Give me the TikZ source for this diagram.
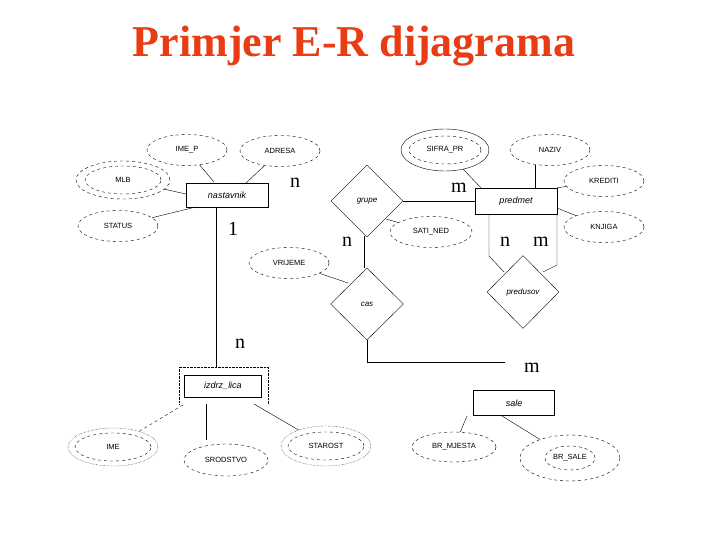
\documentclass[tikz,border=0pt]{standalone}
\usepackage{fontspec}
\setmainfont{Liberation Serif}
\newfontfamily\mysans{Liberation Sans}
\usetikzlibrary{shapes.geometric}
\definecolor{titlered}{RGB}{232,60,20}
\begin{document}
\begin{tikzpicture}[x=1pt,y=-1pt,
 att/.style={draw,dashed,ellipse,minimum width=80pt,minimum height=31pt,inner sep=0pt,font=\mysans\fontsize{7.5}{8}\selectfont},
 inner/.style={draw,dashed,ellipse,inner sep=0pt},
 outer/.style={draw,ellipse,inner sep=0pt},
 ent/.style={draw,rectangle,inner sep=0pt,font=\mysans\itshape\fontsize{9}{10}\selectfont},
 rel/.style={draw,diamond,aspect=1,inner sep=0pt,font=\mysans\itshape\fontsize{8}{9}\selectfont},
 card/.style={font=\fontsize{20}{20}\selectfont},
 lbl/.style={font=\mysans\fontsize{7.5}{8}\selectfont}]
\useasboundingbox (0,0) rectangle (720,540);
\node[text=titlered,font=\bfseries\fontsize{44}{46}\selectfont] (title) at (354,46) {Primjer E-R dijagrama};
% nastavnik
\node[ent,minimum width=82pt,minimum height=24pt] (nast) at (227,195) {nastavnik};
\node[att] (imep) at (187,150) {IME\_P};
\node[att] (adr) at (280,151) {ADRESA};
\node[outer,dashed,minimum width=94pt,minimum height=38pt] (mlbo) at (123,180) {};
\node[inner,minimum width=76pt,minimum height=28pt,lbl] (mlb) at (123,180) {MLB};
\node[att] (stat) at (118,226) {STATUS};
\draw (imep) -- (214,182);
\draw (adr) -- (246,183);
\draw (mlbo) -- (186,194);
\draw (stat) -- (196,207);
\node[card] (c1) at (295,183) {n};
\node[card] (c2) at (233,229) {1};
% grupe/cas
\node[rel,minimum width=72pt,minimum height=72pt] (grupe) at (367,201) {grupe};
\node[rel,minimum width=73pt,minimum height=72pt] (cas) at (367,304) {cas};
\draw (364,236) -- (364,268);
\node[card] (c3) at (347,242) {n};
\node[att,minimum width=82pt] (sati) at (431,232) {SATI\_NED};
\draw (386,219) -- (sati);
\node[att] (vrij) at (289,263) {VRIJEME};
\draw (vrij) -- (348,283);
% predmet
\node[ent,minimum width=82pt,minimum height=26pt] (pred) at (516,201) {predmet};
\draw (grupe.east) -- (pred.west);
\node[card] (c4) at (459,188) {m};
\node[outer,minimum width=88pt,minimum height=42pt] (sifo) at (445,150) {};
\node[inner,minimum width=72pt,minimum height=28pt,lbl] (sif) at (445,150) {SIFRA\_PR};
\draw (sifo) -- (482,189);
\node[att] (naz) at (550,150) {NAZIV};
\draw (535,165.5) -- (535,188);
\node[att] (kred) at (604,181) {KREDITI};
\draw (pred.north east) -- (kred);
\node[att] (knj) at (604,227) {KNJIGA};
\draw (557,208) -- (knj);
\node[rel,minimum width=72pt,minimum height=73pt] (predus) at (523,292) {predusov};
\draw (489,214) -- (489,256) -- (504,272);
\draw (557,214) -- (557,265) -- (543,272);
\node[card] (c5) at (505,242) {n};
\node[card] (c6) at (541,242) {m};
% cas to sale
\draw (cas.south) -- (367,362) -- (505,362);
\node[card] (c7) at (532,368) {m};
\node[ent,minimum width=81pt,minimum height=25pt] (sale) at (514,403) {sale};
\node[att,minimum width=84pt,minimum height=30pt] (brm) at (454,447) {BR\_MJESTA};
\node[outer,dashed,minimum width=100pt,minimum height=46pt] (brso) at (570,458) {};
\node[inner,minimum width=50pt,minimum height=24pt,lbl] (brs) at (570,458) {BR\_SALE};
\draw (467,416) -- (brm);
\draw (502,416) -- (brso);
% izdrz_lica
\draw[densely dotted] (179,404) -- (179,367) -- (268,367) -- (268,404);
\node[ent,minimum width=77pt,minimum height=22pt] (izd) at (223,386) {izdrz\_lica};
\draw (216,207) -- (216,367);
\node[card] (c8) at (240,344) {n};
\node[outer,densely dotted,minimum width=90pt,minimum height=38pt] (imeo) at (113,447) {};
\node[inner,minimum width=76pt,minimum height=28pt,lbl] (ime) at (113,447) {IME};
\draw[dashed] (183,405) -- (imeo);
\node[att,minimum width=84pt,minimum height=32pt] (srod) at (226,460) {SRODSTVO};
\draw (206,404) -- (206,440);
\node[outer,densely dotted,minimum width=90pt,minimum height=40pt] (staro) at (326,446) {};
\node[inner,minimum width=76pt,minimum height=28pt,lbl] (star) at (326,446) {STAROST};
\draw (254,404) -- (staro);
\end{tikzpicture}
\end{document}
